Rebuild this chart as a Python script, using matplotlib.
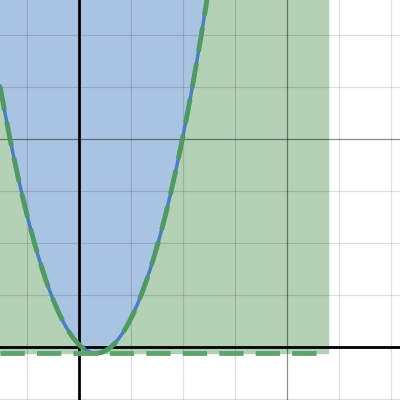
import numpy as np
import matplotlib.pyplot as plt

# parabola y = a*(x - h)^2 + k, and region bounds
a, h, k = 1.5, 0.33, -0.12
x_right = 4.79
xlim = (-1.52, 6.17)
ylim = (-1.02, 6.67)

fig = plt.figure(figsize=(4, 4), dpi=100)
ax = fig.add_axes([0, 0, 1, 1])
ax.set_xlim(*xlim)
ax.set_ylim(*ylim)
ax.axis("off")

# green region
ax.fill_between([xlim[0], x_right], k, ylim[1], color="#b3d1b5", zorder=1)

# blue region inside parabola
xs = np.linspace(xlim[0], xlim[1], 600)
ys = a * (xs - h) ** 2 + k
ax.fill_between(xs, ys, ylim[1], where=ys < ylim[1], color="#a9c4e2", zorder=2)

# grid, drawn over the fills so it shows through like in the reference
for gx in range(-1, 7):
    major = gx % 4 == 0
    ax.axvline(gx, color="black", alpha=0.45 if major else 0.13, lw=0.9, zorder=2.5)
for gy in range(-1, 7):
    major = gy % 4 == 0
    ax.axhline(gy, color="black", alpha=0.45 if major else 0.13, lw=0.9, zorder=2.5)

ax.axhline(0, color="black", lw=2, zorder=3)
ax.axvline(0, color="black", lw=2, zorder=3)

ax.plot(xs, ys, color="#4a7fc0", lw=2.5, zorder=4)
ax.plot(xs, ys, color="#4f9a63", lw=3.5, dashes=(5, 2.5), zorder=5)
ax.plot([xlim[0], x_right], [k, k], color="#5fa370", lw=3.5, dashes=(5, 2.5), zorder=5)

fig.savefig("out.png")
